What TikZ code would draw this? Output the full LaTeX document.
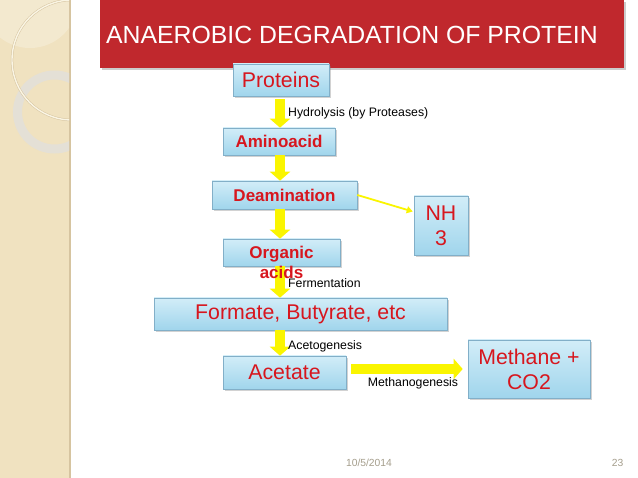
\documentclass[tikz,border=0pt]{standalone}
\usepackage{fontspec}
\setmainfont{Liberation Sans}
\usetikzlibrary{arrows.meta,shadows,calc}
\definecolor{stripbeige}{RGB}{240,226,192}
\definecolor{stripedge}{RGB}{214,196,160}
\definecolor{ringgray}{RGB}{228,224,214}
\definecolor{circcream}{RGB}{250,245,228}
\definecolor{titlered}{RGB}{192,40,45}
\definecolor{boxtop}{RGB}{210,237,248}
\definecolor{boxbot}{RGB}{160,213,236}
\definecolor{boxline}{RGB}{130,175,200}
\definecolor{txtred}{RGB}{215,22,30}
\definecolor{arrowyellow}{RGB}{250,245,0}
\definecolor{footgray}{RGB}{165,158,140}
\tikzset{
  bluebox/.style={rectangle, draw=boxline, line width=0.6pt, top color=boxtop, bottom color=boxbot,
    drop shadow={shadow xshift=1.5pt, shadow yshift=-2pt, opacity=0.35}, inner sep=0pt,
    text=txtred, align=center},
  bigtxt/.style={font=\fontsize{21.3}{25}\selectfont},
  boldtxt/.style={font=\bfseries\fontsize{17}{20}\selectfont},
  yarr/.style={draw=arrowyellow, line width=10pt, -{Triangle[width=20pt,length=9pt]}},
  thinarr/.style={draw=arrowyellow, line width=1.8pt, -{Triangle[width=7pt,length=6pt]}},
  steplabel/.style={font=\fontsize{12.3}{14}\selectfont, text=black, inner sep=0pt},
  foot/.style={font=\fontsize{10.3}{12}\selectfont, text=footgray, inner sep=0pt}
}
\begin{document}
\begin{tikzpicture}[x=1pt,y=-1pt]
\useasboundingbox (0,0) rectangle (638,478);
\fill[white] (0,0) rectangle (638,478);
% left decorative strip
\fill[stripbeige] (0,0) rectangle (70,478);
\fill[stripedge] (69,0) rectangle (70.5,478);
\begin{scope}
  \clip (0,0) rectangle (69,478);
  \fill[white,opacity=0.25] (30,0) circle[radius=48];
  \draw[ringgray, line width=9pt] (54.5,112) circle[radius=37];
  \draw[stripedge, line width=2.4pt] (72,60) circle[radius=60];
  \draw[circcream, line width=1.4pt] (72,60) circle[radius=60];
\end{scope}
% title bar
\fill[titlered, drop shadow={shadow xshift=1.5pt, shadow yshift=-2pt, opacity=0.4}] (100,0) rectangle (624,68);
\node[anchor=base west, inner sep=0pt, text=white, font=\fontsize{24.8}{28}\selectfont] (title) at (106,43.5) {ANAEROBIC DEGRADATION OF PROTEIN};
% boxes
\node[bluebox, bigtxt, minimum width=96pt, minimum height=32pt] (prot) at (281,80) {Proteins};
\node[bluebox, boldtxt, minimum width=112pt, minimum height=27pt] (amino) at (279,141.5) {Aminoacid};
\node[bluebox, boldtxt, minimum width=145pt, minimum height=28pt] (deam) at (284.5,195) {Deamination};
\node[bluebox, minimum width=117pt, minimum height=27pt] (org) at (281.5,252.5) {};
\node[bluebox, bigtxt, minimum width=54pt, minimum height=59pt] (nh) at (441,225.5) {NH\\3};
\node[bluebox, bigtxt, minimum width=293pt, minimum height=32pt] (form) at (300.5,314) {Formate, Butyrate, etc};
\node[bluebox, bigtxt, minimum width=123pt, minimum height=33pt] (acet) at (284.5,372.5) {Acetate};
\node[bluebox, bigtxt, minimum width=122pt, minimum height=58pt] (meth) at (529,369) {Methane +\\CO2};
% connectors
\coordinate (ax) at (280,0);
\draw[yarr, shorten <=3pt] (prot.south -| ax) -- (amino.north -| ax);
\draw[yarr] (amino.south -| ax) -- (deam.north -| ax);
\draw[yarr] (deam.south -| ax) -- (org.north -| ax);
\draw[yarr] (org.south -| ax) -- (form.north -| ax);
\draw[yarr] (form.south -| ax) -- (acet.north -| ax);
\draw[yarr, shorten <=5pt, shorten >=5pt] (acet.east |- meth.west) -- (meth.west);
\draw[thinarr, shorten >=1pt] (deam.east) -- ($(nh.north west)!0.27!(nh.south west)$);
\node[boldtxt, text=txtred, align=center, inner sep=0pt] (orgtext) at (281.5,262) {Organic\\acids};
% labels
\node[steplabel, anchor=west] (lhyd) at (288,113) {Hydrolysis (by Proteases)};
\node[steplabel, anchor=west] (lferm) at (288,283) {Fermentation};
\node[steplabel, anchor=west] (lacet) at (288,346) {Acetogenesis};
\node[steplabel] (lmeth) at (413,383) {Methanogenesis};
% footer
\node[foot] (date) at (369,463) {10/5/2014};
\node[foot] (page) at (617.5,463) {23};
\end{tikzpicture}
\end{document}
